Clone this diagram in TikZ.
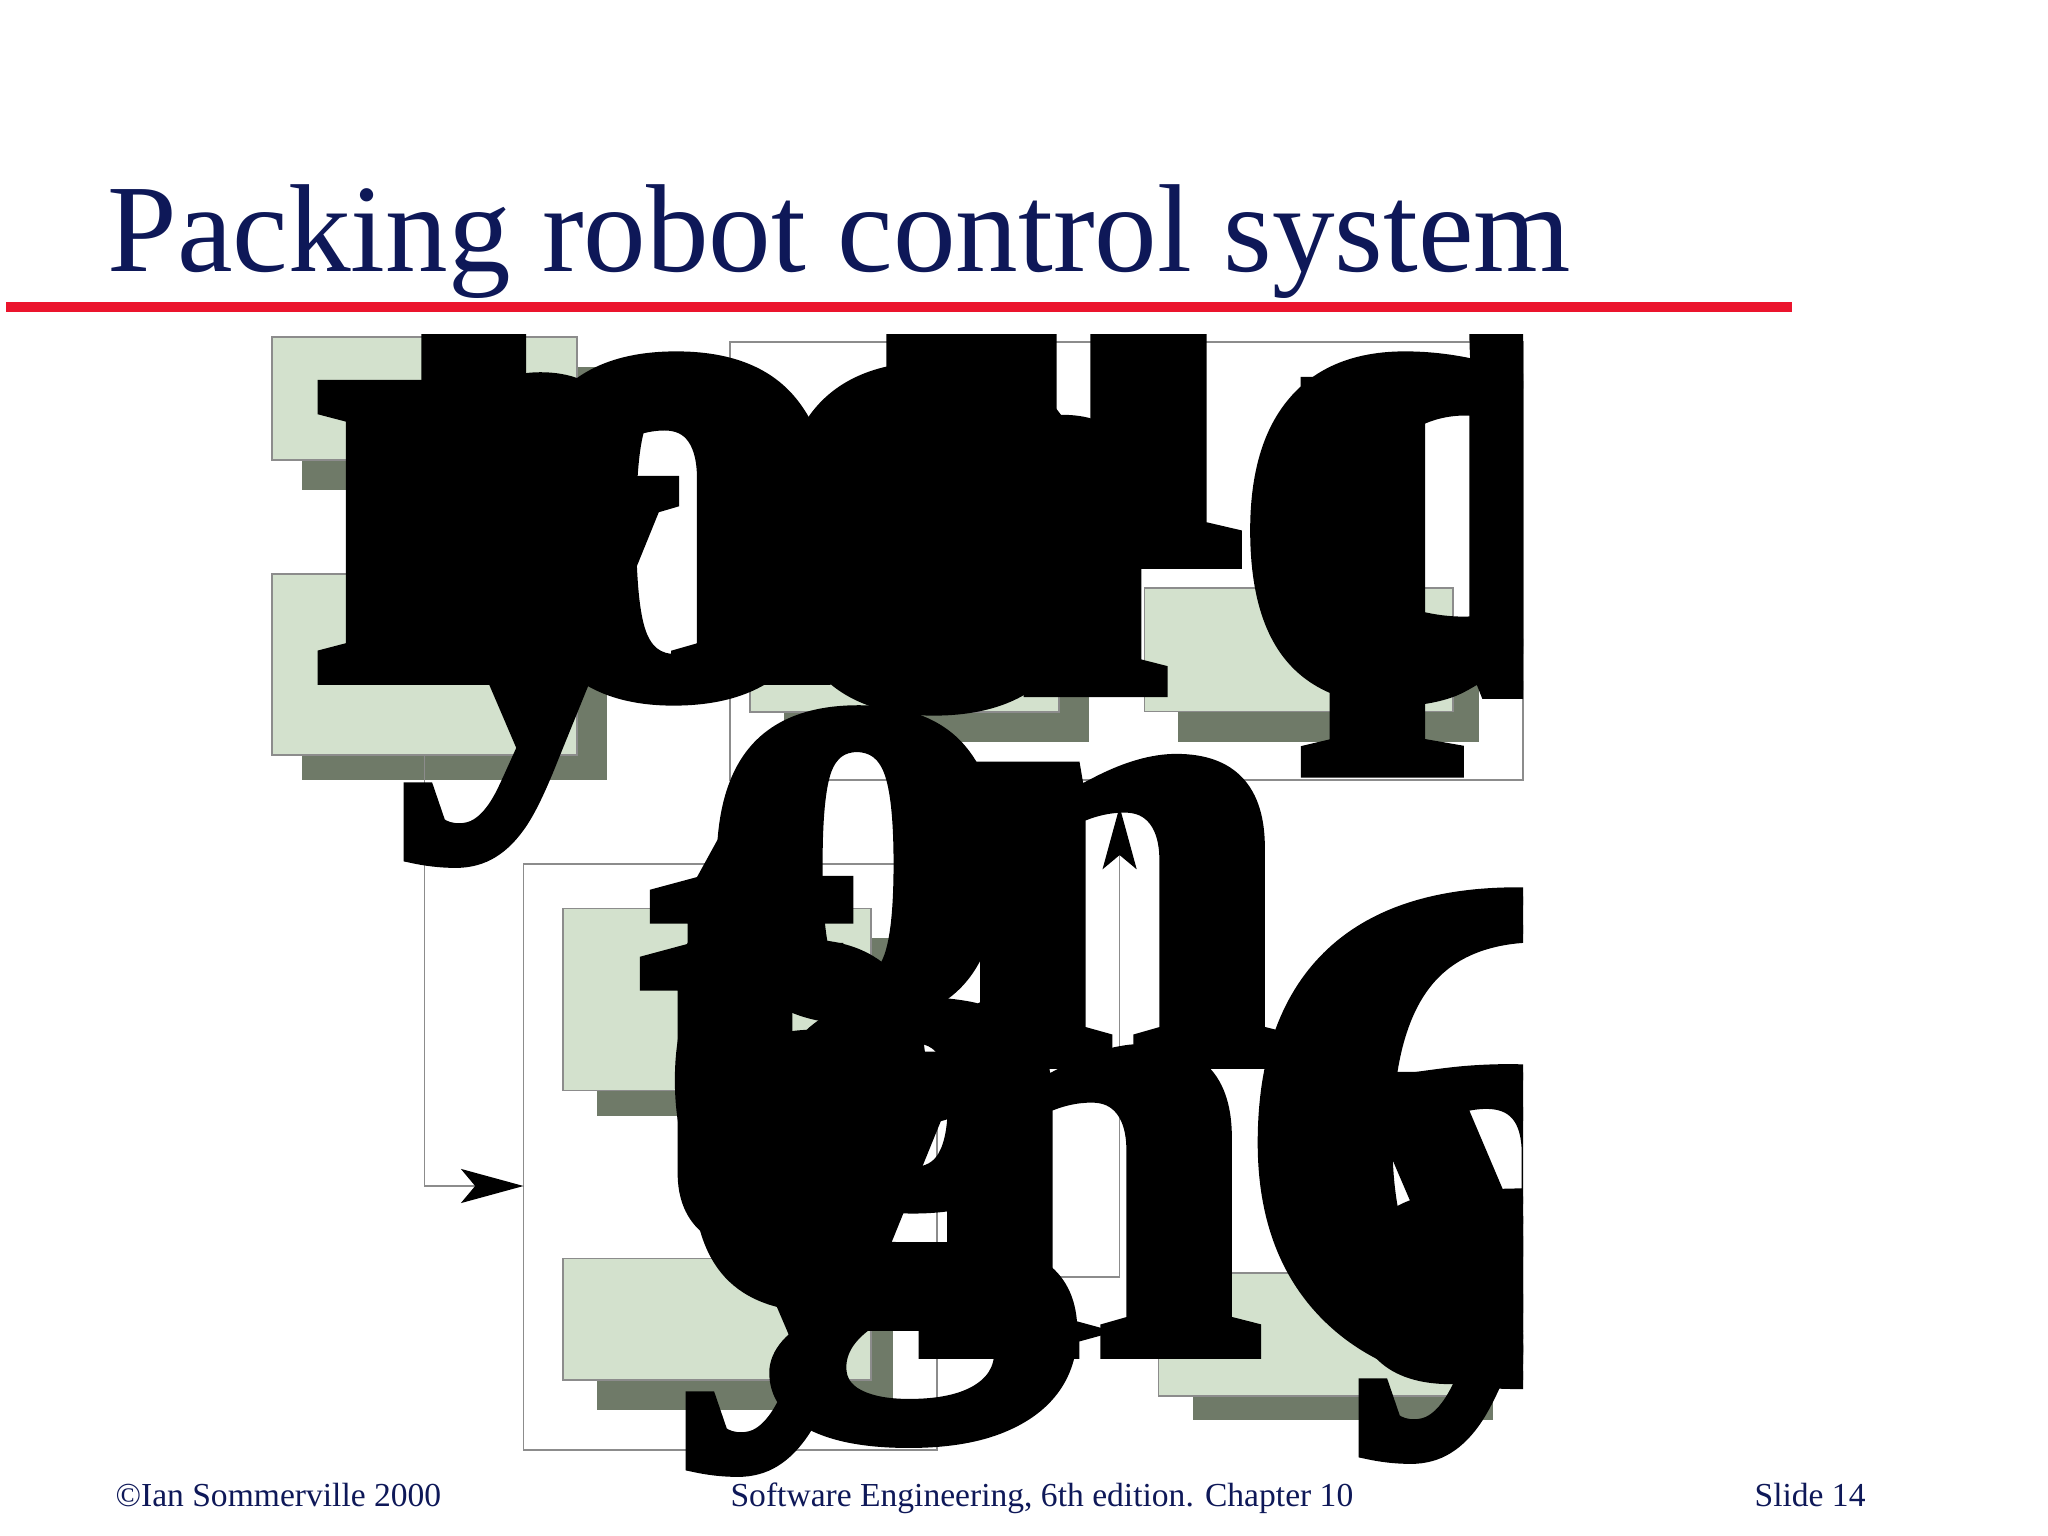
\documentclass[tikz,border=0pt]{standalone}
\usepackage{fontspec}
\setmainfont{Liberation Serif}
\newfontfamily\heavyfont[FakeBold=2.5]{Liberation Serif Bold}
\usetikzlibrary{arrows.meta}
\newlength\px \setlength\px{0.3515625pt}
\definecolor{navy}{RGB}{14,24,88}
\definecolor{slidered}{RGB}{235,20,45}
\definecolor{boxfill}{RGB}{211,225,205}
\definecolor{shadowc}{RGB}{111,122,104}
\definecolor{linegray}{RGB}{140,140,140}
\newcommand\gsz[1]{\heavyfont\fontsize{#1}{#1}\selectfont}
\begin{document}
\begin{tikzpicture}[x=0.3515625pt,y=-0.3515625pt,
  box/.style={draw=linegray,line width=0.4pt,fill=boxfill,inner sep=0pt},
  shadowbox/.style={fill=shadowc},
  frame/.style={draw=linegray,line width=0.5pt},
  conn/.style={draw=linegray,line width=0.5pt},
  tip/.style={-{Stealth[length=22pt,width=12pt,inset=5pt,color=black]}},
  glyph/.style={anchor=base west,inner sep=0pt,text=black},
  footer/.style={anchor=base west,inner sep=0pt,text=navy,font=\fontsize{11.8pt}{14pt}\selectfont}]
\useasboundingbox (0,0) rectangle (2048,1536);
% title and rule
\node[anchor=base west,inner sep=0pt,text=navy,font=\fontsize{44pt}{50pt}\selectfont] (title) at (107,272) {Packing robot control system};
\fill[slidered] (6,302) rectangle (1792,312);
% frames
\draw[frame] (730,342) rectangle (1523,780);
\node[frame,inner sep=0pt,minimum width=413.5\px,minimum height=586\px] (grp) at (730.25,1157) {};
% shadows
\fill[shadowbox] (302,367) rectangle (607,490);
\fill[shadowbox] (302,604) rectangle (607,780);
\fill[shadowbox] (1178,618) rectangle (1479,742);
\fill[shadowbox] (784,618) rectangle (1089,742);
\fill[shadowbox] (597,938) rectangle (892.5,1115.6);
\fill[shadowbox] (597,1288) rectangle (892.5,1410);
\fill[shadowbox] (1192.7,1303) rectangle (1493,1420);
% boxes
\node[box,minimum width=305\px,minimum height=123\px] (A) at (424.5,398.5) {};
\node[box,minimum width=305\px,minimum height=181\px] (B) at (424.5,664.5) {};
\node[box,minimum width=308.5\px,minimum height=123.7\px] (C) at (1298.75,649.85) {};
\node[box,minimum width=309\px,minimum height=124\px] (D) at (904.5,650) {};
\node[box,minimum width=308\px,minimum height=182\px] (E) at (717,999.5) {};
\node[box,minimum width=308\px,minimum height=121.5\px] (F) at (717,1319.25) {};
\node[box,minimum width=306.3\px,minimum height=123\px] (G) at (1311.85,1334.5) {};
% connectors
\coordinate (inG) at (523.5,1186);
\draw[conn,tip] (B.south) |- (inG);
\coordinate (upS) at (937,1277);
\coordinate (upT) at (1119.6,806.7);
\draw[conn,tip] (upS) -| (upT);
\coordinate (rS) at (937,1331.7);
\coordinate (rT) at (1115,1331.7);
\draw[conn,tip] (rS) -- (rT);
% oversized label glyphs, clipped
\begin{scope}
\clip (0,335) rectangle (1523,1536);
\node[glyph] (t1) at (308,677) {\gsz{221.5pt}m};
\node[glyph] (t21) at (385,677) {\gsz{221.5pt}l};
\node[glyph] (t3) at (500,690) {\gsz{246.1pt}o};
\node[glyph] (t19) at (760,700) {\gsz{246.1pt}o};
\node[glyph] (t22) at (900,560) {\gsz{246.1pt}l};
\node[glyph] (t20) at (1050,560) {\gsz{246.1pt}l};
\node[glyph] (t4) at (852,690) {\gsz{200pt}h};
\node[glyph] (t5) at (1300,648) {\gsz{202.1pt}p};
\node[glyph] (t6) at (1230,690) {\gsz{246.1pt}d};
\node[glyph] (t2) at (397,740) {\gsz{196.9pt}y};
\node[glyph] (t18) at (700,1010) {\gsz{221.5pt}o};
\node[glyph] (t7) at (760,1301) {\gsz{221.5pt}g};
\node[glyph] (t8) at (660,1210) {\gsz{196.9pt}o};
\node[glyph] (t9) at (680,1300) {\gsz{196.9pt}e};
\node[glyph] (t10) at (637,1240) {\gsz{221.5pt}t};
\node[glyph] (t11) at (647,1173) {\gsz{221.5pt}t};
\node[glyph] (t12) at (942,1061) {\gsz{223.2pt}n};
\node[glyph] (t13) at (909,1351) {\gsz{223.2pt}n};
\node[glyph] (t14) at (1231,1373) {\gsz{253.1pt}C};
\node[glyph] (t15) at (1340,1370) {\gsz{223.2pt}a};
\node[glyph] (t16) at (1352,1336) {\gsz{196.9pt}y};
\node[glyph] (t17) at (679,1349) {\gsz{196.9pt}y};
\end{scope}
% footer
\node[footer] (f1) at (115,1506) {\char"00A9Ian Sommerville 2000};
\node[footer] (f2) at (730,1506) {Software Engineering, 6th edition. Chapter 10};
\node[footer] (f3) at (1754,1506) {Slide 14};
\end{tikzpicture}
\end{document}
